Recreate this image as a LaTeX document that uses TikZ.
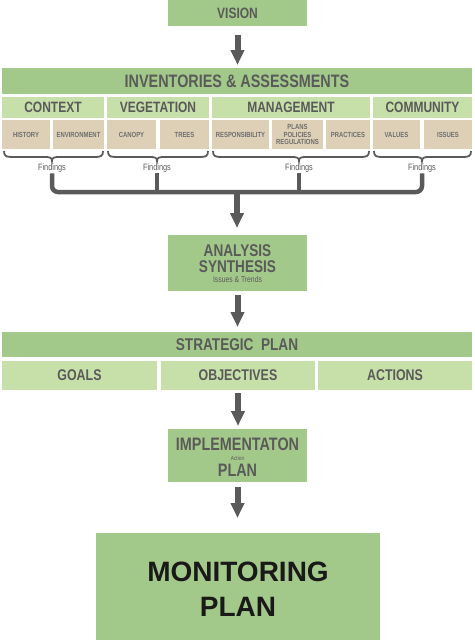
\documentclass[tikz,border=0pt]{standalone}
\usepackage{fontspec}
\setmainfont{Liberation Sans}[FakeStretch=0.8]
\newfontfamily\bigfam{Liberation Sans}
\usetikzlibrary{arrows.meta}
\definecolor{gdark}{HTML}{A3C98A}
\definecolor{glight}{HTML}{C7DFA9}
\definecolor{tanc}{HTML}{DDD0B6}
\definecolor{txt}{HTML}{5A5A5A}
\definecolor{txtl}{HTML}{6E6E6E}
\definecolor{arrc}{HTML}{5A5A5A}
\begin{document}
\begin{tikzpicture}[x=1pt,y=-1pt,
  base/.style={inner sep=0pt,outer sep=0pt,align=center,text=txt},
  dark/.style={base,fill=gdark},
  light/.style={base,fill=glight},
  subhead/.style={light,minimum height=21pt,font=\bfseries\fontsize{15}{15}\selectfont},
  tanbox/.style={base,fill=tanc,text=txtl,minimum height=29pt,font=\bfseries\fontsize{7.4}{7.6}\selectfont},
  goalbox/.style={light,minimum height=29pt,minimum width=155pt,font=\bfseries\fontsize{15.5}{15.5}\selectfont},
  midbox/.style={dark,minimum width=139pt},
  findtxt/.style={inner sep=1pt,text=txt,font=\fontsize{9.2}{9.2}\selectfont},
  brace/.style={draw=arrc,line width=1.8pt},
  bus/.style={draw=arrc,line width=4.5pt,rounded corners=6pt},
  arr/.style={draw=arrc,line width=6pt,-{Triangle[width=13pt,length=15pt]}}
]
\useasboundingbox (0,0) rectangle (474,640);

% VISION
\node[midbox,minimum height=26pt,font=\bfseries\fontsize{15}{15}\selectfont] (vision) at (237.5,13) {VISION};

% Inventories
\node[dark,minimum width=470pt,minimum height=26pt,font=\bfseries\fontsize{18}{18}\selectfont] (inv) at (237,81) {INVENTORIES \& ASSESSMENTS};
\node[subhead,minimum width=102pt] (context) at (53,107.5) {CONTEXT};
\node[subhead,minimum width=102pt] (veg) at (158,107.5) {VEGETATION};
\node[subhead,minimum width=158pt] (mgmt) at (291,107.5) {MANAGEMENT};
\node[subhead,minimum width=99pt] (comm) at (422.5,107.5) {COMMUNITY};

\node[tanbox,minimum width=48pt] (history) at (26,134.5) {HISTORY};
\node[tanbox,minimum width=51pt] (env) at (78.5,134.5) {ENVIRONMENT};
\node[tanbox,minimum width=49pt] (canopy) at (131.5,134.5) {CANOPY};
\node[tanbox,minimum width=49pt] (trees) at (184.5,134.5) {TREES};
\node[tanbox,minimum width=57pt] (resp) at (240.5,134.5) {RESPONSIBILITY};
\node[tanbox,minimum width=51pt] (plans) at (297.5,134.5) {PLANS\\POLICIES\\REGULATIONS};
\node[tanbox,minimum width=44pt] (pract) at (348,134.5) {PRACTICES};
\node[tanbox,minimum width=47pt] (values) at (396.5,134.5) {VALUES};
\node[tanbox,minimum width=48pt] (issues) at (448,134.5) {ISSUES};

% braces
\newcommand{\mybrace}[3]{%
  \draw[brace] (#1,151) .. controls (#1,156) and (#1+2,157) .. (#1+8,157)
    -- (#3-8,157) .. controls (#3-2,157) and (#3,157.5) .. (#3,161)
    .. controls (#3,157.5) and (#3+2,157) .. (#3+8,157)
    -- (#2-8,157) .. controls (#2-2,157) and (#2,156) .. (#2,151);}
\mybrace{4}{103}{52}
\mybrace{108}{208}{157}
\mybrace{213}{369}{299}
\mybrace{374}{471}{422}

\node[findtxt] (f1) at (52,168) {Findings};
\node[findtxt] (f2) at (157,168) {Findings};
\node[findtxt] (f3) at (299,168) {Findings};
\node[findtxt] (f4) at (422,168) {Findings};

\coordinate (jn) at (237,192);
\draw[bus] (f1.south) |- (f4.south |- jn) -- (f4.south);
\draw[bus] (f2.south) -- (f2.south |- jn);
\draw[bus] (f3.south) -- (f3.south |- jn);

% Analysis
\node[midbox,minimum height=56pt] (analysis) at (237.5,263) {};
\node[base,font=\bfseries\fontsize{17}{17}\selectfont] (an1) at (237.5,251) {ANALYSIS};
\node[base,font=\bfseries\fontsize{17}{17}\selectfont] (an2) at (237.5,267) {SYNTHESIS};
\node[base,font=\fontsize{8.5}{8.5}\selectfont] (an3) at (237.5,279) {Issues \& Trends};

% Strategic plan
\node[dark,minimum width=470pt,minimum height=25pt,font=\bfseries\fontsize{17}{17}\selectfont] (strat) at (237,344.5) {STRATEGIC\ \ PLAN};
\node[goalbox] (goals) at (79.5,375.5) {GOALS};
\node[goalbox,minimum width=154pt] (obj) at (238,375.5) {OBJECTIVES};
\node[goalbox,minimum width=154pt] (act) at (395,375.5) {ACTIONS};

% Implementation
\node[midbox,minimum height=53pt] (impl) at (237.5,455.5) {};
\node[base,font=\bfseries\fontsize{18}{18}\selectfont] (im1) at (237.5,444) {IMPLEMENTATON};
\node[base,font=\fontsize{6}{6}\selectfont] (im2) at (237.5,458) {Action};
\node[base,font=\bfseries\fontsize{18}{18}\selectfont] (im3) at (237.5,470) {PLAN};

% Monitoring
\node[dark,minimum width=284pt,minimum height=107pt] (mon) at (238,586.5) {};
\node[base,text=black!90,font=\bigfam\bfseries\fontsize{28}{28}\selectfont] (mo1) at (238,572) {MONITORING};
\node[base,text=black!90,font=\bigfam\bfseries\fontsize{28}{28}\selectfont] (mo2) at (238,607) {PLAN};

% arrows
\draw[arr,shorten <=9pt,shorten >=3pt] (vision.south) -- (vision.south |- inv.north);
\draw[arr,shorten >=7pt] (jn) -- (jn |- analysis.north);
\draw[arr,shorten <=4pt,shorten >=5pt] (analysis.south) -- (analysis.south |- strat.north);
\draw[arr,shorten <=3pt,shorten >=3pt] (obj.south) -- (obj.south |- impl.north);
\draw[arr,shorten <=5pt,shorten >=15pt] (impl.south) -- (impl.south |- mon.north);
\end{tikzpicture}
\end{document}
